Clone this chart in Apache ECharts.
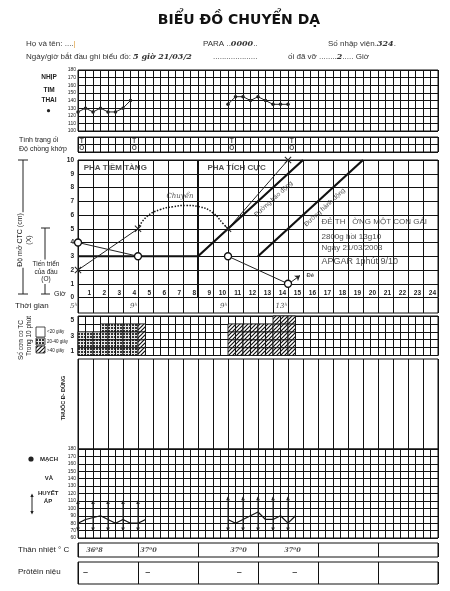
<!DOCTYPE html>
<html>
<head>
<meta charset="utf-8">
<title>Biểu đồ chuyển dạ</title>
<script src="https://cdn.jsdelivr.net/npm/echarts@6/dist/echarts.min.js"></script>
<style>
  html, body { margin: 0; padding: 0; background: #fff; }
  #chart { width: 450px; height: 591px; }
</style>
</head>
<body>
<div id="chart"></div>
<script>
// nhịp tim thai, mỗi nửa giờ
var fhrHoursA = [0, 0.5, 1, 1.5, 2, 2.5, 3, 3.5];
var fhrA      = [125, 130, 125, 130, 125, 125, 130, 140];
var fhrHoursB = [10, 10.5, 11, 11.5, 12, 12.5, 13, 13.5, 14];
var fhrB      = [135, 145, 145, 140, 145, 140, 135, 135, 135];

// tình trạng ối (T) / độ chồng khớp (O)
var membraneHours = [0, 3.5, 10, 14];
var membraneState = ['T', 'T', 'T', 'T'];
var mouldingState = ['O', 'O', 'O', 'O'];

// độ mở CTC (X)
var cervixHours = [0, 4, 10, 14];
var cervixCm    = [2, 5, 5, 10];
// đường chuyển (chấm)
var transferHours = [4, 4.6, 5.5, 6.3, 7.2, 8.1, 9, 9.65, 10];
var transferCm    = [5, 5.9, 6.4, 6.6, 6.7, 6.6, 6.15, 5.4, 5];
// tiến triển của đầu (O)
var headHours = [0, 4, 10, 14];
var headLevel = [4, 3, 3, 1];
// đường báo động, đường hành động
var alertLine  = [[0, 3], [8, 3], [15, 10]];
var actionLine = [[12, 3], [19, 10]];
var phaseSplit = [[8, 0], [8, 10]];

var phaseLabels = ['PHA TIỀM TÀNG', 'PHA TÍCH CỰC'];
var lineLabels  = ['Đường báo động', 'Đường hành động'];
var birthNotes  = ['ĐẺ TH   ỜNG MỘT CON GÁI', '2800g hồi 13g10', 'Ngày 21/03/2003', 'APGAR 1phút 9/10'];

// giờ thực
var clockHours  = [0, 4, 10, 14];
var clockLabels = ['5', '9', '9', '13'];

// cơn co TC trong 10 phút (1 = 20-40 giây, 2 = >40 giây)
var contrHours = [0, 0.5, 1, 1.5, 2, 2.5, 3, 3.5, 4, 10, 10.5, 11, 11.5, 12, 12.5, 13, 13.5, 14];
var contrCount = [3, 3, 3, 4, 4, 4, 4, 4, 4, 4, 4, 4, 4, 4, 4, 5, 5, 5];
var contrKind  = [1, 1, 1, 1, 1, 1, 1, 1, 2, 2, 2, 2, 2, 2, 2, 2, 2, 2];

// mạch
var pulseHoursA = [0, 0.5, 1.5, 2, 2.5, 3, 3.5, 4, 4.5];
var pulseA      = [80, 85, 90, 85, 80, 85, 80, 80, 85];
var pulseHoursB = [10, 10.5, 11, 11.5, 12, 12.5, 13, 13.5, 14, 14.5];
var pulseB      = [85, 80, 85, 90, 95, 85, 85, 90, 80, 90];
// huyết áp
var bpHours = [0, 1, 2, 3, 4, 10, 11, 12, 13, 14];
var bpSys   = [110, 110, 110, 110, 110, 115, 115, 115, 115, 115];
var bpDia   = [70, 70, 70, 70, 70, 70, 70, 70, 70, 70];

// thân nhiệt, protein niệu
var tempHours    = [1.1, 4.7, 10.7, 14.3];
var temps        = [36.8, 37.0, 37.0, 37.0];
var proteinHours = [0.5, 4.65, 10.75, 14.45];
var protein      = ['–', '–', '–', '–'];

var ink = '#222';
var rule = '#111';
var sans = '"Liberation Sans", Arial, sans-serif';
var serif = '"DejaVu Serif", "Liberation Serif", serif';

function zip(xs, ys) {
  return xs.map(function (x, i) { return [x, ys[i]]; });
}

function makePattern(kind) {
  var c = document.createElement('canvas');
  var g;
  if (kind === 'dots') {
    c.width = 3; c.height = 3;
    g = c.getContext('2d');
    g.fillStyle = '#333'; g.fillRect(0, 0, 3, 3);
    g.fillStyle = '#e6e6e6'; g.fillRect(2, 0, 1, 3); g.fillRect(0, 2, 3, 1);
  } else {
    c.width = 4; c.height = 4;
    g = c.getContext('2d');
    g.fillStyle = '#fff'; g.fillRect(0, 0, 4, 4);
    g.strokeStyle = '#111'; g.lineWidth = 1.2;
    g.beginPath();
    g.moveTo(0, 4); g.lineTo(4, 0);
    g.moveTo(-1, 1); g.lineTo(1, -1);
    g.moveTo(3, 5); g.lineTo(5, 3);
    g.stroke();
  }
  return { image: c, repeat: 'repeat' };
}
var dots = makePattern('dots');
var hatch = makePattern('hatch');

// top, height of each panel
var layout = [[70, 61], [137, 15], [160, 137.5], [297.5, 15.5], [316, 39.5], [359, 90], [449, 89], [543, 14], [562, 22]];
var xSteps = [0.5, 0.5, 1, 1, 0.5, 1, 0.5, 4, 4];

var grids = layout.map(function (p) {
  return { left: 78, top: p[0], width: 360, height: p[1], show: true,
    borderColor: rule, borderWidth: 1, backgroundColor: 'transparent' };
});

var xAxes = xSteps.map(function (s, i) {
  return { gridIndex: i, type: 'value', min: 0, max: 24, interval: s,
    axisLine: { show: false }, axisTick: { show: false }, axisLabel: { show: false },
    splitLine: { show: true, lineStyle: { color: rule, width: 1 } } };
});
xAxes[2].axisLabel = { show: true, inside: true, margin: 1, align: 'right', padding: [0, 2, 0, 0],
  fontSize: 6.5, fontWeight: 'bold', fontFamily: sans, color: ink,
  formatter: function (v) { return v === 0 ? '' : v; } };

function yAxis(g, o) {
  return Object.assign({ gridIndex: g, type: 'value', axisLine: { show: false }, axisTick: { show: false },
    axisLabel: { show: false }, splitLine: { show: false } }, o);
}
var lineSt = { show: true, interval: 0, lineStyle: { color: rule, width: 1 } };
var yAxes = [
  yAxis(0, { min: 100, max: 180, interval: 10, splitLine: lineSt,
    axisLabel: { show: true, fontSize: 5, margin: 2, color: ink, fontFamily: sans } }),
  yAxis(1, { type: 'category', data: ['O', 'T'], splitLine: lineSt }),
  yAxis(2, { min: 0, max: 10, interval: 1, splitLine: lineSt,
    axisLabel: { show: true, fontSize: 6.5, fontWeight: 'bold', margin: 4, color: ink, fontFamily: sans } }),
  yAxis(3, { min: 0, max: 1 }),
  yAxis(4, { type: 'category', data: ['1', '2', '3', '4', '5'], splitLine: lineSt,
    axisLabel: { show: true, fontSize: 6.5, fontWeight: 'bold', margin: 4, color: ink, fontFamily: sans } }),
  yAxis(5, { min: 0, max: 1 }),
  yAxis(6, { min: 60, max: 180, interval: 10, splitLine: lineSt,
    axisLabel: { show: true, fontSize: 5, margin: 2, color: ink, fontFamily: sans } }),
  yAxis(7, { min: 0, max: 1 }),
  yAxis(8, { min: 0, max: 1 })
];

function lineSeries(g, data, extra) {
  return Object.assign({ type: 'line', xAxisIndex: g, yAxisIndex: g, data: data, symbol: 'none',
    clip: false, silent: true, lineStyle: { color: ink, width: 1 }, itemStyle: { color: ink }, z: 3 }, extra || {});
}
function labelSeries(g, data, fmt, label) {
  return { type: 'scatter', xAxisIndex: g, yAxisIndex: g, data: data, symbolSize: 1, silent: true, z: 6,
    itemStyle: { color: 'rgba(0,0,0,0)' },
    label: Object.assign({ show: true, position: 'inside', formatter: fmt, color: ink, fontFamily: sans }, label) };
}

var xMark = 'path://M0,1L1,0L5,4L9,0L10,1L6,5L10,9L9,10L5,6L1,10L0,9L4,5Z';
var ring = { color: '#fff', borderColor: '#111', borderWidth: 1.3 };
var cervixPts = zip(cervixHours, cervixCm);
var headPts = zip(headHours, headLevel);
var noteY = [5.51, 4.42, 3.6, 2.6];
var noteSize = [8, 8, 8, 9];

var series = [
  lineSeries(0, zip(fhrHoursA, fhrA), { symbol: 'circle', symbolSize: 3.5 }),
  lineSeries(0, zip(fhrHoursB, fhrB), { symbol: 'circle', symbolSize: 3.5 }),

  labelSeries(1, membraneHours.map(function (h) { return [h + 0.25, 'T']; }),
    function (p) { return membraneState[p.dataIndex]; }, { fontSize: 6.5, fontWeight: 'bold' }),
  labelSeries(1, membraneHours.map(function (h) { return [h + 0.25, 'O']; }),
    function (p) { return mouldingState[p.dataIndex]; }, { fontSize: 6.5, fontWeight: 'bold' }),

  lineSeries(2, alertLine, { lineStyle: { color: '#111', width: 2.2 }, z: 2 }),
  lineSeries(2, actionLine, { lineStyle: { color: '#111', width: 2.2 }, z: 2 }),
  lineSeries(2, phaseSplit, { lineStyle: { color: '#111', width: 2 }, z: 2 }),
  lineSeries(2, zip(transferHours, transferCm), { smooth: 0.5, lineStyle: { color: '#111', width: 1.5, type: 'dotted' } }),
  lineSeries(2, cervixPts.slice(0, 2), { symbol: xMark, symbolSize: 7 }),
  lineSeries(2, cervixPts.slice(2), { symbol: xMark, symbolSize: 7 }),
  lineSeries(2, headPts.slice(0, 2), { symbol: 'circle', symbolSize: 7, itemStyle: ring, z: 4 }),
  lineSeries(2, headPts.slice(2), { symbol: 'circle', symbolSize: 7, itemStyle: ring, z: 4 }),
  { type: 'lines', coordinateSystem: 'cartesian2d', xAxisIndex: 2, yAxisIndex: 2, silent: true, z: 3,
    symbol: ['none', 'arrow'], symbolSize: 5, lineStyle: { color: ink, width: 1, opacity: 1 },
    data: [{ coords: [[14.2, 1.12], [14.8, 1.6]] }] },

  labelSeries(2, [[0.35, 9.45], [8.6, 9.45]], function (p) { return phaseLabels[p.dataIndex]; },
    { position: 'right', distance: 0, fontSize: 8, fontWeight: 'bold' }),
  labelSeries(2, [[6.8, 7.4]], function () { return 'Chuyển'; },
    { fontFamily: serif, fontStyle: 'italic', fontSize: 7 }),
  labelSeries(2, [[13.03, 7.16], [16.45, 6.55]], function (p) { return lineLabels[p.dataIndex]; },
    { rotate: 42.5, fontSize: 6.5 }),
  labelSeries(2, birthNotes.map(function (t, i) {
      return { value: [16.2, noteY[i]], label: { fontSize: noteSize[i] } };
    }), function (p) { return birthNotes[p.dataIndex]; }, { position: 'right', distance: 0 }),
  labelSeries(2, [[15.2, 1.64]], function () { return 'Đẻ'; },
    { position: 'right', distance: 0, fontSize: 6, fontWeight: 'bold' }),

  labelSeries(3, clockHours.map(function (h) { return [h, 0.42]; }),
    function (p) { return clockLabels[p.dataIndex] + 'ʰ'; },
    { position: 'left', distance: 0, fontFamily: serif, fontStyle: 'italic', fontSize: 7 }),

  { type: 'custom', xAxisIndex: 4, yAxisIndex: 4, silent: true, z: 4,
    data: contrHours.map(function (h, i) { return [h, contrCount[i], contrKind[i]]; }),
    encode: { x: 0 },
    renderItem: function (params, api) {
      var h = api.value(0), n = api.value(1), kind = api.value(2);
      var size = api.size([0.5, 1]);
      var kids = [];
      for (var k = 0; k < n; k++) {
        var c = api.coord([h, k]);
        kids.push({ type: 'rect',
          shape: { x: c[0], y: c[1] - size[1] / 2, width: size[0], height: size[1] },
          style: { fill: kind === 2 ? hatch : dots, stroke: '#111', lineWidth: 0.9 } });
      }
      return { type: 'group', children: kids };
    } },

  lineSeries(6, zip(pulseHoursA, pulseA), { lineStyle: { color: '#111', width: 1.2 } }),
  lineSeries(6, zip(pulseHoursB, pulseB), { lineStyle: { color: '#111', width: 1.2 } }),
  { type: 'custom', xAxisIndex: 6, yAxisIndex: 6, silent: true, z: 4,
    data: bpHours.map(function (h, i) { return [h, bpSys[i], bpDia[i]]; }),
    encode: { x: 0, y: [1, 2] },
    renderItem: function (params, api) {
      var top = api.coord([api.value(0), api.value(1)]);
      var bot = api.coord([api.value(0), api.value(2)]);
      var a = 1.8;
      return { type: 'group', children: [
        { type: 'line', shape: { x1: top[0], y1: top[1], x2: bot[0], y2: bot[1] }, style: { stroke: ink, lineWidth: 1 } },
        { type: 'polygon', shape: { points: [[top[0], top[1] - 1], [top[0] - a, top[1] + 3], [top[0] + a, top[1] + 3]] }, style: { fill: ink } },
        { type: 'polygon', shape: { points: [[bot[0], bot[1] + 1], [bot[0] - a, bot[1] - 3], [bot[0] + a, bot[1] - 3]] }, style: { fill: ink } }
      ] };
    } },

  labelSeries(7, tempHours.map(function (h) { return [h, 0.5]; }),
    function (p) { var s = temps[p.dataIndex].toFixed(1).split('.'); return s[0] + '⁰' + s[1]; },
    { fontFamily: serif, fontStyle: 'italic', fontWeight: 'bold', fontSize: 6.5 }),
  labelSeries(8, proteinHours.map(function (h) { return [h, 0.5]; }),
    function (p) { return protein[p.dataIndex]; }, { fontSize: 9, fontWeight: 'bold' })
];

function txt(x, y, s, size, opt) {
  opt = opt || {};
  var font = (opt.italic ? 'italic ' : '') + (opt.bold ? 'bold ' : '') + size + 'px ' + (opt.family || sans);
  var st = { text: s, font: font, fill: opt.color || ink,
    align: opt.align || 'left', textAlign: opt.align || 'left',
    verticalAlign: 'middle', textVerticalAlign: 'middle' };
  if (opt.bg) { st.backgroundColor = opt.bg; st.padding = [1, 1]; }
  if (opt.rich) { st.rich = opt.rich; }
  return { type: 'text', x: x, y: y, rotation: opt.rot || 0, z: 10, style: st };
}
function seg(x1, y1, x2, y2, w) {
  return { type: 'line', z: 9, shape: { x1: x1, y1: y1, x2: x2, y2: y2 }, style: { stroke: ink, lineWidth: w || 1 } };
}
var hand = { i: { font: 'italic bold 8px ' + serif, fill: '#333' }, c: { fill: '#e0a040', font: '8px ' + sans } };
var up = Math.PI / 2;

var graphics = [
  txt(239, 20, 'BIỂU ĐỒ CHUYỂN DẠ', 14, { bold: true, family: '"DejaVu Sans", sans-serif', align: 'center', color: '#111' }),
  txt(26, 43.5, 'Họ và tên: ....{c||}', 8, { rich: hand, color: '#333' }),
  txt(203, 43.5, 'PARA ..{i|0000}..', 8, { rich: hand, color: '#333' }),
  txt(328, 43.5, 'Số nhập viện.{i|324}.', 8, { rich: hand, color: '#333' }),
  txt(26, 57, 'Ngày/giờ bắt đầu ghi biểu đồ: {i|5 giờ 21/03/2}', 8, { rich: hand, color: '#333' }),
  txt(213, 57, '....................', 8, { color: '#333' }),
  txt(288, 57, 'ối đã vỡ ........{i|2}..... Giờ', 8, { rich: hand, color: '#333' }),

  txt(49, 77, 'NHỊP', 6.5, { bold: true, align: 'center' }),
  txt(49, 90, 'TIM', 6.5, { bold: true, align: 'center' }),
  txt(49, 100, 'THAI', 6.5, { bold: true, align: 'center' }),
  { type: 'circle', z: 10, shape: { cx: 48.5, cy: 110.7, r: 1.6 }, style: { fill: ink } },
  txt(19, 140, 'Tình trạng ối', 7),
  txt(19, 149.3, 'Độ chồng khớp', 7),

  seg(23, 160, 23, 294), seg(18, 160, 28, 160), seg(18, 294, 28, 294),
  txt(20.5, 240, 'Độ mở CTC (cm)', 7, { rot: up, align: 'center', bg: '#fff' }),
  txt(29, 240, '(X)', 7, { rot: up, align: 'center', bg: '#fff' }),
  seg(45, 228, 45, 294), seg(41, 228, 50, 228), seg(41, 294, 50, 294),
  txt(46, 264, 'Tiến triển', 6.5, { align: 'center', bg: '#fff' }),
  txt(46, 272, 'của đầu', 6.5, { align: 'center', bg: '#fff' }),
  txt(46, 279.5, '(O)', 6.5, { align: 'center', bg: '#fff' }),
  txt(53, 294, 'Giờ', 7, { bg: '#fff' }),
  txt(15, 306, 'Thời gian', 8),

  txt(21, 340, 'Số cơn co TC', 6.5, { rot: up, align: 'center' }),
  txt(29.5, 336, 'Trong 10 phút', 6.5, { rot: up, align: 'center' }),
  { type: 'rect', z: 10, shape: { x: 36, y: 327, width: 9, height: 10 }, style: { fill: '#fff', stroke: ink, lineWidth: 0.8 } },
  { type: 'rect', z: 10, shape: { x: 36, y: 338, width: 9, height: 7 }, style: { fill: dots, stroke: ink, lineWidth: 0.8 } },
  { type: 'rect', z: 10, shape: { x: 36, y: 346, width: 9, height: 7 }, style: { fill: hatch, stroke: ink, lineWidth: 0.8 } },
  txt(47, 332, '<20 giây', 4.5),
  txt(47, 342, '20-40 giây', 4.5),
  txt(47, 351, '>40 giây', 4.5),

  txt(63, 398, 'THUỐC Đ- DÙNG', 5.5, { rot: up, align: 'center', bold: true }),

  { type: 'circle', z: 10, shape: { cx: 31, cy: 459, r: 2.6 }, style: { fill: ink } },
  txt(40, 459, 'MẠCH', 6, { bold: true }),
  txt(49, 478, 'VÀ', 6, { bold: true, align: 'center' }),
  txt(38, 493, 'HUYẾT', 6, { bold: true }),
  txt(48, 501, 'ÁP', 6, { bold: true, align: 'center' }),
  seg(32, 495, 32, 513),
  { type: 'polygon', z: 10, shape: { points: [[32, 493.5], [30.3, 497], [33.7, 497]] }, style: { fill: ink } },
  { type: 'polygon', z: 10, shape: { points: [[32, 514.5], [30.3, 511], [33.7, 511]] }, style: { fill: ink } },

  txt(18, 550, 'Thân nhiệt ° C', 8),
  txt(18, 571.5, 'Prôtêin niệu', 8)
];

var chart = echarts.init(document.getElementById('chart'));
chart.setOption({
  animation: false,
  backgroundColor: '#fff',
  grid: grids,
  xAxis: xAxes,
  yAxis: yAxes,
  series: series,
  graphic: { elements: graphics }
});
</script>
</body>
</html>
